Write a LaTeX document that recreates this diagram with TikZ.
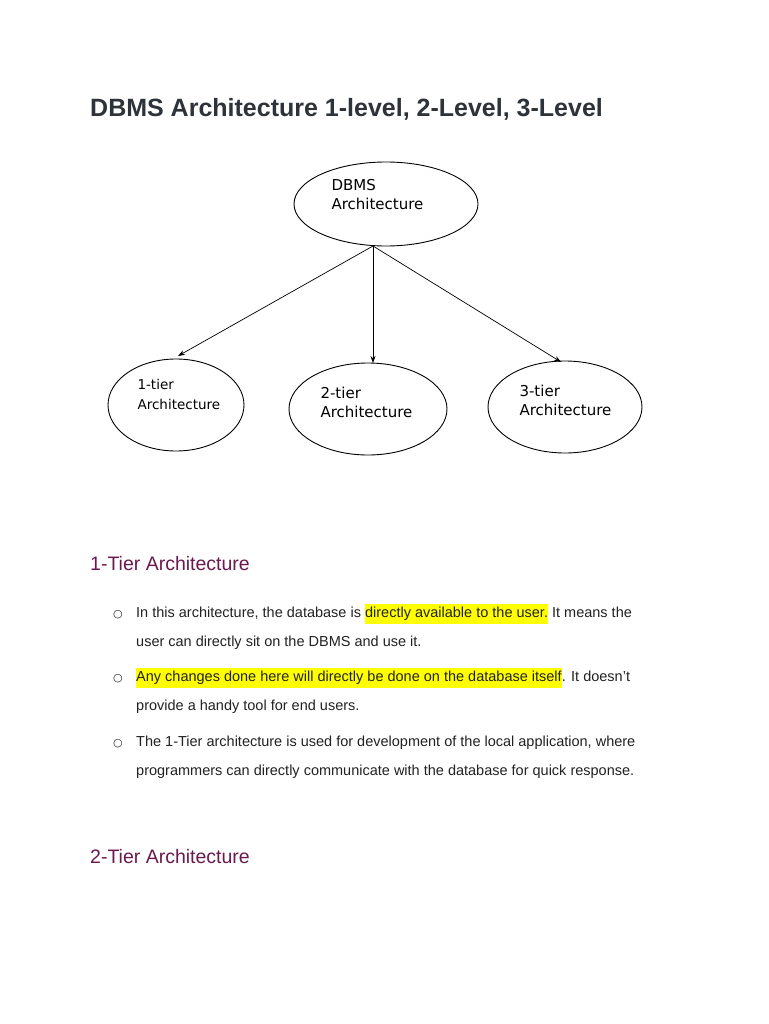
\documentclass[tikz,border=0pt]{standalone}
\usepackage{fontspec}
\setmainfont{Liberation Sans}
\newfontfamily\dv{DejaVu Sans}
\usetikzlibrary{arrows.meta}
\definecolor{titlec}{HTML}{2D3339}
\definecolor{headc}{HTML}{6B1A4F}
\definecolor{hl}{HTML}{FFFF00}
\definecolor{bodyc}{HTML}{222222}
\begin{document}
\begin{tikzpicture}[x=1pt,y=-1pt,
  ell/.style={draw,line width=0.9pt},
  lab/.style={font=\dv\fontsize{15}{19}\selectfont,align=left},
  arr/.style={-{Stealth[length=7pt,width=5pt]},line width=0.7pt},
  body/.style={anchor=base west,inner sep=0,text=bodyc,font=\fontsize{14.5}{17}\selectfont},
  bul/.style={anchor=base,inner sep=0,text=bodyc,font=\dv\fontsize{11}{13}\selectfont},
  head/.style={anchor=base west,inner sep=0,text=headc,font=\fontsize{19.5}{23}\selectfont}]
\useasboundingbox[fill=white] (0,0) rectangle (768,1024);
\node[anchor=base west,inner sep=0,text=titlec,font=\bfseries\fontsize{25}{30}\selectfont] (title) at (90,117) {DBMS Architecture 1-level, 2-Level, 3-Level};
\draw[ell] (386,204) ellipse (92 and 42);
\node[lab,anchor=west] (top) at (328,195) {DBMS\\Architecture};
\draw[ell] (176,405) ellipse (68 and 46);
\node[lab,anchor=west,font=\dv\fontsize{13.5}{20}\selectfont] (l) at (134,394) {1-tier\\Architecture};
\draw[ell] (368,409) ellipse (79 and 46);
\node[lab,anchor=west] (m) at (317,402) {2-tier\\Architecture};
\draw[ell] (565,407) ellipse (77 and 46);
\node[lab,anchor=west] (r) at (516,400) {3-tier\\Architecture};
\coordinate (s) at (373,246);
\coordinate (e1) at (178,356);
\coordinate (e2) at (373,363);
\coordinate (e3) at (561,362);
\draw[arr] (s) -- (e1);
\draw[arr] (s) -- (e2);
\draw[arr] (s) -- (e3);
\node[head] (h1) at (90,570) {1-Tier Architecture};
\node[bul] (b1) at (118,617) {○};
\node[body] (t1) at (136,617) {In this architecture, the database is \colorbox{hl}{\rule[-3.5pt]{0pt}{14pt}\kern-3pt directly available to the user.\kern-3pt} It means the};
\node[body] (t1b) at (136,646) {user can directly sit on the DBMS and use it.};
\node[bul] (b2) at (118,681) {○};
\node[body] (t2) at (136,681) {\colorbox{hl}{\rule[-3.5pt]{0pt}{14pt}\kern-3pt Any changes done here will directly be done on the database itself\kern-3pt}. It doesn't};
\node[body] (t2b) at (136,710) {provide a handy tool for end users.};
\node[bul] (b3) at (118,746) {○};
\node[body] (t3) at (136,746) {The 1-Tier architecture is used for development of the local application, where};
\node[body] (t3b) at (136,775) {programmers can directly communicate with the database for quick response.};
\node[head] (h2) at (90,863) {2-Tier Architecture};
\end{tikzpicture}
\end{document}
